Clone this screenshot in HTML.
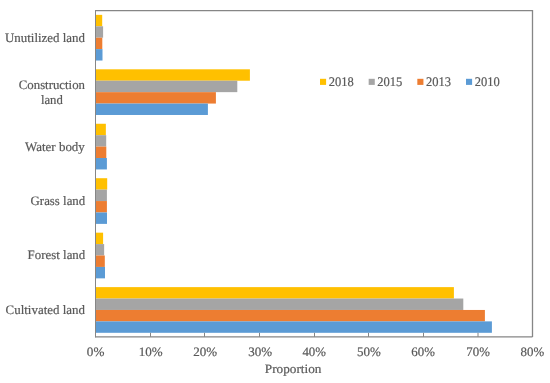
<!DOCTYPE html><html><head><meta charset="utf-8"><style>html,body{margin:0;padding:0;background:#fff;}svg{display:block}text{font-family:"Liberation Serif","Times New Roman",serif;fill:#595959;stroke:#595959;stroke-width:0.2px;text-rendering:geometricPrecision}</style></head><body>
<svg width="550" height="383" viewBox="0 0 550 383">
<rect x="0" y="0" width="550" height="383" fill="#fff"/>
<rect x="95.5" y="14.85" width="6.70" height="11.42" fill="#FFC000"/>
<rect x="95.5" y="26.27" width="7.60" height="11.42" fill="#A5A5A5"/>
<rect x="95.5" y="37.69" width="6.80" height="11.42" fill="#ED7D31"/>
<rect x="95.5" y="49.11" width="7.00" height="11.42" fill="#5B9BD5"/>
<rect x="95.5" y="69.30" width="154.40" height="11.42" fill="#FFC000"/>
<rect x="95.5" y="80.72" width="141.80" height="11.42" fill="#A5A5A5"/>
<rect x="95.5" y="92.14" width="120.40" height="11.42" fill="#ED7D31"/>
<rect x="95.5" y="103.56" width="112.40" height="11.42" fill="#5B9BD5"/>
<rect x="95.5" y="123.76" width="10.35" height="11.42" fill="#FFC000"/>
<rect x="95.5" y="135.18" width="10.70" height="11.42" fill="#A5A5A5"/>
<rect x="95.5" y="146.60" width="10.80" height="11.42" fill="#ED7D31"/>
<rect x="95.5" y="158.02" width="11.40" height="11.42" fill="#5B9BD5"/>
<rect x="95.5" y="178.21" width="11.70" height="11.42" fill="#FFC000"/>
<rect x="95.5" y="189.63" width="11.40" height="11.42" fill="#A5A5A5"/>
<rect x="95.5" y="201.05" width="11.40" height="11.42" fill="#ED7D31"/>
<rect x="95.5" y="212.47" width="11.50" height="11.42" fill="#5B9BD5"/>
<rect x="95.5" y="232.67" width="7.60" height="11.42" fill="#FFC000"/>
<rect x="95.5" y="244.09" width="8.65" height="11.42" fill="#A5A5A5"/>
<rect x="95.5" y="255.51" width="9.30" height="11.42" fill="#ED7D31"/>
<rect x="95.5" y="266.93" width="9.50" height="11.42" fill="#5B9BD5"/>
<rect x="95.5" y="287.12" width="358.40" height="11.42" fill="#FFC000"/>
<rect x="95.5" y="298.54" width="367.80" height="11.42" fill="#A5A5A5"/>
<rect x="95.5" y="309.96" width="389.40" height="11.42" fill="#ED7D31"/>
<rect x="95.5" y="321.38" width="396.40" height="11.42" fill="#5B9BD5"/>
<path d="M95.5 10.7 H532.5 V336.9" fill="none" stroke="#868686" stroke-width="1.3"/>
<path d="M95.5 336.9 H532.5" fill="none" stroke="#868686" stroke-width="1.3"/>
<path d="M95.5 10.049999999999999 V337.54999999999995" fill="none" stroke="#868686" stroke-width="1"/>
<path d="M150.50 336.9 V332.79999999999995" stroke="#868686" stroke-width="1"/>
<path d="M204.50 336.9 V332.79999999999995" stroke="#868686" stroke-width="1"/>
<path d="M259.50 336.9 V332.79999999999995" stroke="#868686" stroke-width="1"/>
<path d="M314.50 336.9 V332.79999999999995" stroke="#868686" stroke-width="1"/>
<path d="M368.50 336.9 V332.79999999999995" stroke="#868686" stroke-width="1"/>
<path d="M423.50 336.9 V332.79999999999995" stroke="#868686" stroke-width="1"/>
<path d="M478.00 336.9 V332.79999999999995" stroke="#868686" stroke-width="1"/>
<text x="5.03" y="41.50" font-size="12.85" textLength="79.93" lengthAdjust="spacingAndGlyphs">Unutilized land</text>
<text x="18.77" y="88.50" font-size="12.85" textLength="66.22" lengthAdjust="spacingAndGlyphs">Construction</text>
<text x="40.95" y="103.60" font-size="12.85" textLength="21.91" lengthAdjust="spacingAndGlyphs">land</text>
<text x="25.09" y="151.00" font-size="12.85" textLength="59.76" lengthAdjust="spacingAndGlyphs">Water body</text>
<text x="30.57" y="204.50" font-size="12.85" textLength="54.68" lengthAdjust="spacingAndGlyphs">Grass land</text>
<text x="27.63" y="259.00" font-size="12.85" textLength="57.63" lengthAdjust="spacingAndGlyphs">Forest land</text>
<text x="5.57" y="313.50" font-size="12.85" textLength="79.39" lengthAdjust="spacingAndGlyphs">Cultivated land</text>
<text x="86.80" y="356.10" font-size="12.9" textLength="17.55" lengthAdjust="spacingAndGlyphs">0%</text>
<text x="138.75" y="356.10" font-size="12.9" textLength="24.00" lengthAdjust="spacingAndGlyphs">10%</text>
<text x="193.23" y="356.10" font-size="12.9" textLength="23.92" lengthAdjust="spacingAndGlyphs">20%</text>
<text x="248.17" y="356.10" font-size="12.9" textLength="23.97" lengthAdjust="spacingAndGlyphs">30%</text>
<text x="302.45" y="356.10" font-size="12.9" textLength="23.59" lengthAdjust="spacingAndGlyphs">40%</text>
<text x="356.94" y="356.10" font-size="12.9" textLength="23.90" lengthAdjust="spacingAndGlyphs">50%</text>
<text x="411.35" y="356.10" font-size="12.9" textLength="23.59" lengthAdjust="spacingAndGlyphs">60%</text>
<text x="466.35" y="356.10" font-size="12.9" textLength="23.59" lengthAdjust="spacingAndGlyphs">70%</text>
<text x="520.61" y="356.10" font-size="12.9" textLength="23.63" lengthAdjust="spacingAndGlyphs">80%</text>
<text x="264.82" y="373.00" font-size="12.8" textLength="56.58" lengthAdjust="spacingAndGlyphs">Proportion</text>
<rect x="320.00" y="78.8" width="6.1" height="6.1" fill="#FFC000"/>
<text x="328.65" y="85.80" font-size="13.1" textLength="25.03" lengthAdjust="spacingAndGlyphs">2018</text>
<rect x="368.67" y="78.8" width="6.1" height="6.1" fill="#A5A5A5"/>
<text x="377.32" y="85.80" font-size="13.1" textLength="25.04" lengthAdjust="spacingAndGlyphs">2015</text>
<rect x="417.33" y="78.8" width="6.1" height="6.1" fill="#ED7D31"/>
<text x="425.98" y="85.80" font-size="13.1" textLength="25.04" lengthAdjust="spacingAndGlyphs">2013</text>
<rect x="466.00" y="78.8" width="6.1" height="6.1" fill="#5B9BD5"/>
<text x="474.65" y="85.80" font-size="13.1" textLength="25.03" lengthAdjust="spacingAndGlyphs">2010</text>
</svg></body></html>
